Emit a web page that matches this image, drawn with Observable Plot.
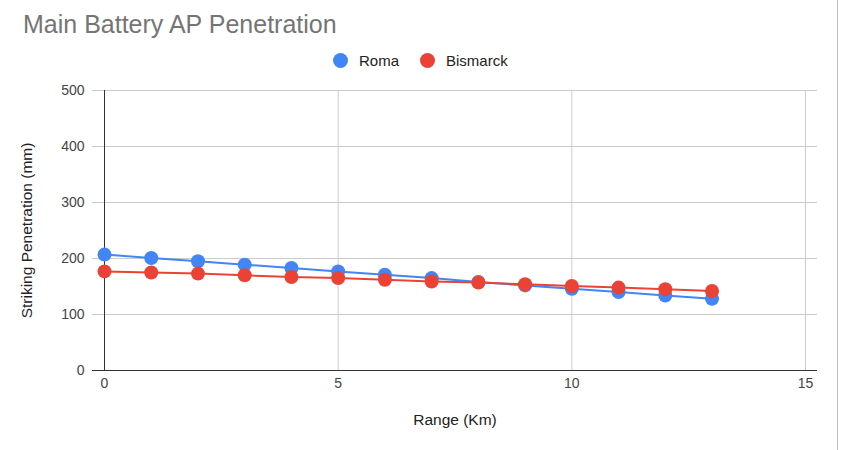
<!DOCTYPE html>
<html>
<head>
<meta charset="utf-8">
<script src="https://cdn.jsdelivr.net/npm/d3@7"></script>
<script src="https://cdn.jsdelivr.net/npm/@observablehq/plot@0.6"></script>
<style>
  body { margin: 0; background: #fff; font-family: "Liberation Sans", Arial, sans-serif; }
  #wrap { position: relative; width: 841px; height: 450px; overflow: hidden; background: #fff; }
  #title { position: absolute; left: 23px; top: 10px; font-size: 25px; line-height: 29px; color: #757575; white-space: nowrap; }
  #legend { position: absolute; top: 52px; left: 333px; display: flex; align-items: center; font-size: 15px; line-height: 17px; color: #222; }
  .item { display: flex; align-items: center; margin-right: 21px; }
  .sw { width: 15px; height: 15px; border-radius: 50%; margin-right: 11px; }
  #edge { position: absolute; left: 837px; top: 0; width: 1px; height: 450px; background: #bdbdbd; }
  #chart svg { display: block; }
</style>
</head>
<body>
<div id="wrap">
  <div id="chart"></div>
  <div id="title">Main Battery AP Penetration</div>
  <div id="legend"></div>
  <div id="edge"></div>
</div>
<script>
// Striking penetration of each ship's main battery AP shell by range
const rangeKm = [0, 1, 2, 3, 4, 5, 6, 7, 8, 9, 10, 11, 12, 13];
const roma = [207, 201, 195, 189, 183, 177, 171, 165, 158, 152, 146, 140, 134, 128];
const bismarck = [177, 175, 173, 170, 167, 165, 162, 159, 157, 154, 151, 148, 145, 142];

const seriesNames = ["Roma", "Bismarck"];
const seriesColors = ["#4285f4", "#ea4335"];
const yTicks = [0, 100, 200, 300, 400, 500];
const xTicks = [0, 5, 10, 15];

const rows = [
  ...rangeKm.map((r, i) => ({ range: r, pen: roma[i], ship: "Roma" })),
  ...rangeKm.map((r, i) => ({ range: r, pen: bismarck[i], ship: "Bismarck" }))
];

const chart = Plot.plot({
  width: 841,
  height: 450,
  marginLeft: 92,
  marginRight: 24,
  marginTop: 90,
  marginBottom: 80,
  style: { fontFamily: "'Liberation Sans', Arial, sans-serif", fontSize: "14px", color: "#444", background: "#fff" },
  x: { domain: [-0.257, 15.257] },
  y: { domain: [0, 500] },
  color: { domain: seriesNames, range: seriesColors },
  marks: [
    Plot.gridY(yTicks.filter(d => d > 0), { stroke: "#cccccc", strokeOpacity: 1 }),
    Plot.gridX(xTicks.filter(d => d > 0), { stroke: "#cccccc", strokeOpacity: 1 }),
    Plot.axisY(yTicks, { tickSize: 0, tickPadding: 8, fontSize: 14, fill: "#444", label: null }),
    Plot.axisX(xTicks, { tickSize: 0, tickPadding: 8, fontSize: 14, fill: "#444", label: null }),
    Plot.ruleY([0], { stroke: "#333" }),
    Plot.ruleX([0], { stroke: "#333" }),
    Plot.text(["Striking Penetration (mm)"], { frameAnchor: "left", textAnchor: "middle", rotate: -90, dx: -65, fontSize: 15.5, fill: "#222" }),
    Plot.text(["Range (Km)"], { frameAnchor: "bottom", textAnchor: "middle", dy: 54, fontSize: 15.5, fill: "#222" }),
    Plot.line(rows, { x: "range", y: "pen", z: "ship", stroke: "ship", strokeWidth: 2 }),
    Plot.dot(rows, { x: "range", y: "pen", fill: "ship", r: 7 })
  ]
});
document.getElementById("chart").append(chart);

// Legend entries
const legend = document.getElementById("legend");
seriesNames.forEach((name, i) => {
  const item = document.createElement("div");
  item.className = "item";
  const sw = document.createElement("span");
  sw.className = "sw";
  sw.style.background = seriesColors[i];
  const label = document.createElement("span");
  label.textContent = name;
  item.append(sw, label);
  legend.append(item);
});
</script>
</body>
</html>
